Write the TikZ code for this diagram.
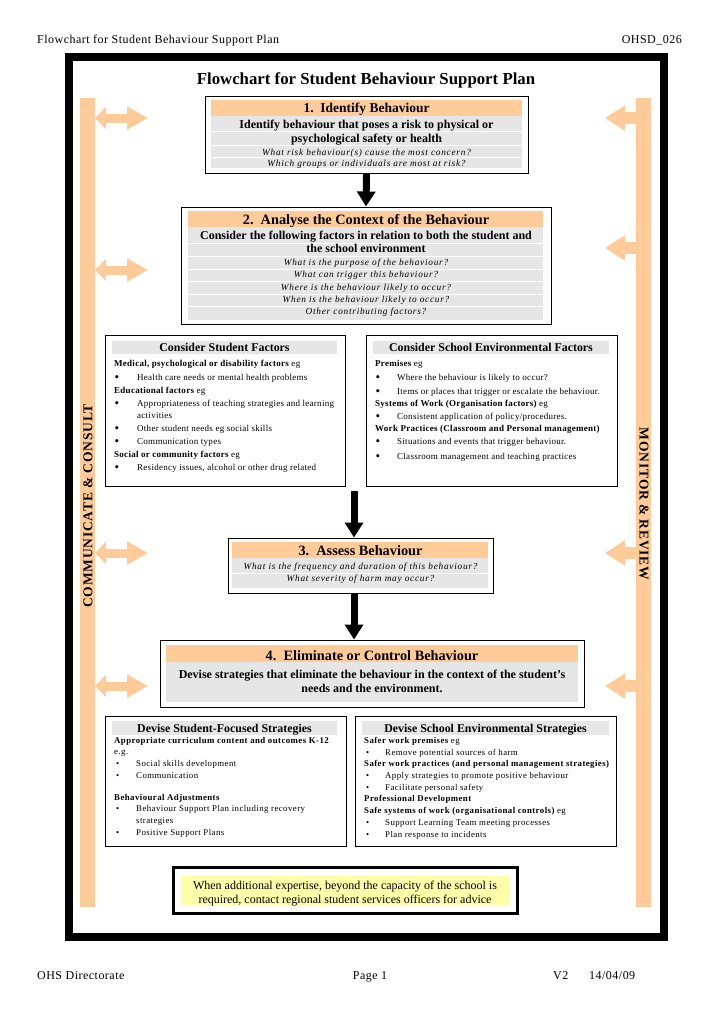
\documentclass[tikz,border=0pt]{standalone}
\usepackage{fontspec}
\setmainfont{Liberation Serif}
\usetikzlibrary{arrows.meta}
\definecolor{peach}{RGB}{255,204,153}
\definecolor{lgray}{RGB}{230,230,230}
\definecolor{pyellow}{RGB}{255,255,170}
\newcommand\myfs[2]{\fontsize{#1}{#2}\selectfont}
\newcommand\bul{{\myfs{13}{13}\textbullet}}
\tikzset{
  hdr/.style={font=\myfs{12}{14}\addfontfeature{LetterSpace=4}, inner sep=0},
  ttl/.style={font=\bfseries\myfs{16.8}{18}, anchor=base, inner sep=0},
  stepbox/.style={draw, line width=1pt, inner sep=0},
  sh/.style={font=\bfseries\myfs{14.3}{16}, anchor=base, inner sep=0},
  sb/.style={font=\bfseries\myfs{12}{14}, anchor=base, inner sep=0},
  sq/.style={font=\itshape\myfs{9.3}{10}\addfontfeature{LetterSpace=8}, anchor=base, inner sep=0},
  fh/.style={font=\bfseries\myfs{11.9}{13}, anchor=base, inner sep=0},
  ft/.style={font=\myfs{9}{10}\addfontfeature{LetterSpace=3}, anchor=base west, inner sep=0},
  gt/.style={font=\myfs{8.8}{10}\addfontfeature{LetterSpace=5}, anchor=base west, inner sep=0},
  sep/.style={white, line width=0.6pt},
  bigarrow/.style={line width=7pt, -{Triangle[length=15pt,width=18pt]}},
  dblarrow/.style={draw=peach, line width=9pt, {Triangle[length=11pt,width=22pt]}-{Triangle[length=21pt,width=22pt]}},
  rarrow/.style={draw=peach, line width=12pt, -{Triangle[length=20pt,width=24pt]}},
  bar/.style={fill=peach, inner sep=0, minimum width=15pt, minimum height=809pt},
  vlab/.style={font=\bfseries\myfs{13.5}{15}\addfontfeature{LetterSpace=6}, inner sep=0},
}
\begin{document}
\begin{tikzpicture}[x=1pt,y=-1pt]
\useasboundingbox[fill=white] (0,0) rectangle (719,1017);
% page header / footer
\node[hdr, anchor=base west] (hl) at (37,43) {Flowchart for Student Behaviour Support Plan};
\node[hdr, anchor=base east] (hr) at (682,43) {OHSD\_026};
\node[hdr, anchor=base west] (fl) at (37,979) {OHS Directorate};
\node[hdr, anchor=base] (fc) at (370,979) {Page 1};
\node[hdr, anchor=base west] (fv) at (553,979) {V2};
\node[hdr, anchor=base west] (fd) at (589,979) {14/04/09};
% frame
\draw[line width=8pt] (69,57) rectangle (664,937);
% side bars
\node[bar] (lbar) at (87.5,502.5) {};
\node[bar] (rbar) at (643.5,502.5) {};
\node[vlab, rotate=90] (lt) at (88,506) {COMMUNICATE \& CONSULT};
\node[vlab, rotate=-90] (rt) at (644,504) {MONITOR \& REVIEW};
% side arrows
\coordinate (la1) at (148,118);
\coordinate (la2) at (148,270);
\coordinate (la3) at (148,553);
\coordinate (la4) at (148,686);
\foreach \c in {la1,la2,la3,la4} \draw[dblarrow] (lbar.east |- \c) -- (\c);
\coordinate (ra1) at (605,118);
\coordinate (ra2) at (605,248);
\coordinate (ra3) at (605,553);
\coordinate (ra4) at (605,686);
\foreach \c in {ra1,ra2,ra3,ra4} \draw[rarrow] (rbar.west |- \c) -- (\c);
% title
\node[ttl] (title) at (366,84) {Flowchart for Student Behaviour Support Plan};
% ---------- box 1
\fill[peach] (211,100) rectangle (522,116);
\fill[lgray] (211,116) rectangle (522,168);
\draw[sep] (211,131) -- (522,131) (211,145) -- (522,145) (211,157.5) -- (522,157.5);
\node[stepbox, minimum width=323pt, minimum height=77pt] (b1) at (366.5,134.5) {};
\node[sh, font=\bfseries\myfs{13.5}{15}] (b1h) at (366.5,112.5) {1.\ \ Identify Behaviour};
\node[sb] (b1a) at (366.5,128) {Identify behaviour that poses a risk to physical or};
\node[sb] (b1b) at (366.5,142) {psychological safety or health};
\node[sq] (b1c) at (366.5,155) {What risk behaviour(s) cause the most concern?};
\node[sq] (b1d) at (366.5,166) {Which groups or individuals are most at risk?};
% ---------- box 2
\fill[peach] (188,211) rectangle (543,227);
\fill[lgray] (188,227) rectangle (543,320);
\draw[sep] (188,243) -- (543,243) (188,256) -- (543,256) (188,269) -- (543,269) (188,281.5) -- (543,281.5) (188,294) -- (543,294) (188,306.5) -- (543,306.5);
\node[stepbox, minimum width=370pt, minimum height=117pt] (b2) at (366,265.5) {};
\node[sh] (b2h) at (366,224) {2.\ \ Analyse the Context of the Behaviour};
\node[sb] (b2a) at (366,239) {Consider the following factors in relation to both the student and};
\node[sb] (b2b) at (366,252) {the school environment};
\node[sq] (b2c) at (366,265) {What is the purpose of the behaviour?};
\node[sq] (b2d) at (366,277) {What can trigger this behaviour?};
\node[sq] (b2e) at (366,290) {Where is the behaviour likely to occur?};
\node[sq] (b2f) at (366,302) {When is the behaviour likely to occur?};
\node[sq] (b2g) at (366,314) {Other contributing factors?};
% ---------- student factors
\node[stepbox, line width=0.8pt, minimum width=240pt, minimum height=151pt] (sf) at (225,410.5) {};
\fill[lgray] (112,341) rectangle (337,354);
\node[fh] (sfh) at (224.5,351) {Consider Student Factors};
\node[ft] (sf1) at (114,366) {\bfseries Medical, psychological or disability factors \mdseries eg};
\node[ft] (sfb1) at (114.5,381) {\bul};
\node[ft] (sf2) at (137,380) {Health care needs or mental health problems};
\node[ft] (sf3) at (114,393) {\bfseries Educational factors \mdseries eg};
\node[ft] (sfb2) at (114.5,407) {\bul};
\node[ft] (sf4) at (137,406) {Appropriateness of teaching strategies and learning};
\node[ft] (sf5) at (137,418) {activities};
\node[ft] (sfb3) at (114.5,432) {\bul};
\node[ft] (sf6) at (137,431) {Other student needs eg social skills};
\node[ft] (sfb4) at (114.5,445) {\bul};
\node[ft] (sf7) at (137,444) {Communication types};
\node[ft] (sf8) at (114,457) {\bfseries Social or community factors \mdseries eg};
\node[ft] (sfb5) at (114.5,471) {\bul};
\node[ft] (sf9) at (137,470) {Residency issues, alcohol or other drug related};
% ---------- school factors
\node[stepbox, line width=0.8pt, minimum width=251pt, minimum height=151pt] (ef) at (491.5,410.5) {};
\fill[lgray] (373,341) rectangle (609,354);
\node[fh] (efh) at (491,351) {Consider School Environmental Factors};
\node[ft] (ef1) at (375,366) {\bfseries Premises \mdseries eg};
\node[ft] (efb1) at (375.5,381) {\bul};
\node[ft] (ef2) at (397,380) {Where the behaviour is likely to occur?};
\node[ft] (efb2) at (375.5,395) {\bul};
\node[ft] (ef3) at (397,394) {Items or places that trigger or escalate the behaviour.};
\node[ft] (ef4) at (375,406) {\bfseries Systems of Work (Organisation factors) \mdseries eg};
\node[ft] (efb3) at (375.5,420) {\bul};
\node[ft] (ef5) at (397,419) {Consistent application of policy/procedures.};
\node[ft] (ef6) at (375,431) {\bfseries Work Practices (Classroom and Personal management)};
\node[ft] (efb4) at (375.5,445) {\bul};
\node[ft] (ef7) at (397,444) {Situations and events that trigger behaviour.};
\node[ft] (efb5) at (375.5,460) {\bul};
\node[ft] (ef8) at (397,459) {Classroom management and teaching practices};
% ---------- box 3
\fill[peach] (232,542) rectangle (488,558);
\fill[lgray] (232,558) rectangle (488,588);
\draw[sep] (232,573) -- (488,573);
\node[stepbox, minimum width=265pt, minimum height=55pt] (b3) at (360.5,565.5) {};
\node[sh] (b3h) at (360.5,555) {3.\ \ Assess Behaviour};
\node[sq] (b3a) at (360.5,569) {What is the frequency and duration of this behaviour?};
\node[sq] (b3b) at (360.5,581) {What severity of harm may occur?};
% ---------- box 4
\fill[peach] (166,645) rectangle (578,662);
\fill[lgray] (166,662) rectangle (578,702);
\node[stepbox, minimum width=424pt, minimum height=67pt] (b4) at (372,673.5) {};
\node[sh] (b4h) at (372,660) {4.\ \ Eliminate or Control Behaviour};
\node[sb] (b4a) at (372,678) {Devise strategies that eliminate the behaviour in the context of the student's};
\node[sb] (b4b) at (372,692) {needs and the environment.};
% ---------- student strategies
\node[stepbox, line width=0.8pt, minimum width=241pt, minimum height=130pt] (ss) at (225.5,781) {};
\fill[lgray] (112,721) rectangle (337,735);
\node[fh] (ssh) at (224.5,732) {Devise Student-Focused Strategies};
\node[gt] (ss1) at (114,743) {\bfseries Appropriate curriculum content and outcomes K-12};
\node[gt] (ss2) at (114,754) {e.g.};
\node[gt] (ssb1) at (116,766) {\textbullet};
\node[gt] (ss3) at (136,766) {Social skills development};
\node[gt] (ssb2) at (116,778) {\textbullet};
\node[gt] (ss4) at (136,778) {Communication};
\node[gt] (ss5) at (114,800) {\bfseries Behavioural Adjustments};
\node[gt] (ssb3) at (116,811) {\textbullet};
\node[gt] (ss6) at (136,811) {Behaviour Support Plan including recovery};
\node[gt] (ss7) at (136,823) {strategies};
\node[gt] (ssb4) at (116,835) {\textbullet};
\node[gt] (ss8) at (136,835) {Positive Support Plans};
% ---------- school strategies
\node[stepbox, line width=0.8pt, minimum width=261pt, minimum height=130pt] (es) at (485.5,781) {};
\fill[lgray] (362,721) rectangle (609,735);
\node[fh] (esh) at (485.5,732) {Devise School Environmental Strategies};
\node[gt] (es1) at (364,743) {\bfseries Safer work premises \mdseries eg};
\node[gt] (esb1) at (366,755) {\textbullet};
\node[gt] (es2) at (385,755) {Remove potential sources of harm};
\node[gt] (es3) at (364,766) {\bfseries Safer work practices (and personal management strategies)};
\node[gt] (esb2) at (366,778) {\textbullet};
\node[gt] (es4) at (385,778) {Apply strategies to promote positive behaviour};
\node[gt] (esb3) at (366,790) {\textbullet};
\node[gt] (es5) at (385,790) {Facilitate personal safety};
\node[gt] (es6) at (364,801) {\bfseries Professional Development};
\node[gt] (es7) at (364,813) {\bfseries Safe systems of work (organisational controls) \mdseries eg};
\node[gt] (esb4) at (366,825) {\textbullet};
\node[gt] (es8) at (385,825) {Support Learning Team meeting processes};
\node[gt] (esb5) at (366,837) {\textbullet};
\node[gt] (es9) at (385,837) {Plan response to incidents};
% ---------- note
\fill[pyellow] (181,876) rectangle (510,906);
\node[draw, line width=3pt, inner sep=0, minimum width=344pt, minimum height=46pt] (note) at (345,890) {};
\node[font=\myfs{12}{13}, anchor=base, inner sep=0] (n1) at (345,889) {When additional expertise, beyond the capacity of the school is};
\node[font=\myfs{12}{13}, anchor=base, inner sep=0] (n2) at (345,903) {required, contact regional student services officers for advice};
% ---------- flow arrows
\coordinate (a2) at (354,491);
\draw[bigarrow] (b1.south) -- (b2.north);
\draw[bigarrow] (a2) -- (a2 |- b3.north);
\draw[bigarrow] (b3.south -| a2) -- (b4.north -| a2);
\end{tikzpicture}
\end{document}
